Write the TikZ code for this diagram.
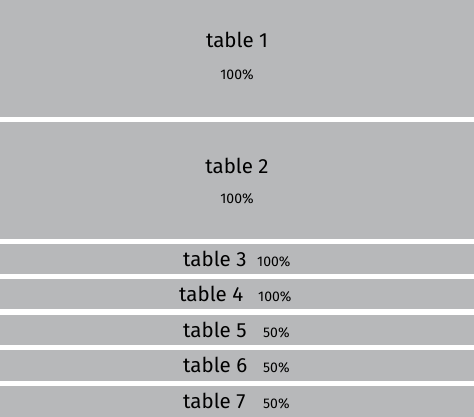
\documentclass[tikz,border=0pt]{standalone}
\usepackage{fontspec}
\setmainfont{Fira Sans}
\definecolor{band}{RGB}{183,184,186}
\begin{document}
\begin{tikzpicture}[x=1pt,y=-1pt,
  bandbox/.style={fill=band,draw=none},
  big/.style={font=\fontsize{20.5}{22}\selectfont,inner sep=0pt,anchor=base west},
  small/.style={font=\fontsize{14}{16}\selectfont,inner sep=0pt,anchor=base west},
  bigc/.style={font=\fontsize{20.5}{22}\selectfont,inner sep=0pt,anchor=base},
  smallc/.style={font=\fontsize{14}{16}\selectfont,inner sep=0pt,anchor=base}]
\fill[white] (0,0) rectangle (474,417);
\useasboundingbox (0,0) rectangle (474,417);
\fill[bandbox] (0,0) rectangle (474,117);
\fill[bandbox] (0,122) rectangle (474,239);
\fill[bandbox] (0,244) rectangle (474,274);
\fill[bandbox] (0,279) rectangle (474,309);
\fill[bandbox] (0,315) rectangle (474,345);
\fill[bandbox] (0,350) rectangle (474,381);
\fill[bandbox] (0,386) rectangle (474,417);
\node[bigc] (t1) at (237,48) {table 1};
\node[smallc] (p1) at (237,80) {100\%};
\node[bigc] (t2) at (237,173) {table 2};
\node[smallc] (p2) at (237,204) {100\%};
\node[big] (t3) at (183,266) {table 3};
\node[small] (p3) at (257,266) {100\%};
\node[big] (t4) at (179,301) {table 4};
\node[small] (p4) at (258,301) {100\%};
\node[big] (t5) at (183,337) {table 5};
\node[small] (p5) at (263,337) {50\%};
\node[big] (t6) at (183,372) {table 6};
\node[small] (p6) at (263,372) {50\%};
\node[big] (t7) at (183,408) {table 7};
\node[small] (p7) at (263,408) {50\%};
\end{tikzpicture}
\end{document}
